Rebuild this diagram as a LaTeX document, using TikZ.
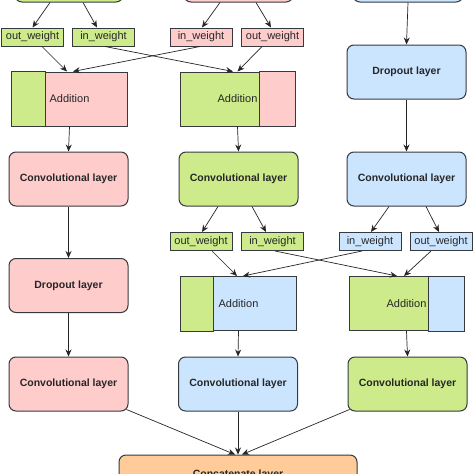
\documentclass[tikz,border=0pt]{standalone}
\usepackage{fontspec}
\setmainfont{Liberation Sans}
\usetikzlibrary{arrows.meta}
\definecolor{pinkfill}{HTML}{FFCCCC}
\definecolor{greenfill}{HTML}{CDEB8B}
\definecolor{bluefill}{HTML}{CCE5FF}
\definecolor{orangefill}{HTML}{FFCC99}
\definecolor{edgegray}{HTML}{36393D}

\begin{document}
\begin{tikzpicture}[x=1pt,y=-1pt,
  layer/.style={draw=edgegray, line width=1pt, rounded corners=7pt, minimum width=119pt, minimum height=54pt, inner sep=0pt, font=\fontsize{10.5}{12}\selectfont\bfseries, text=black!85},
  wbox/.style={draw=edgegray, line width=1pt, minimum width=62pt, minimum height=18pt, inner sep=0pt, font=\fontsize{11}{12}\selectfont, text=black!85},
  addbox/.style={draw=edgegray, line width=1pt, minimum width=115pt, minimum height=54pt, inner sep=0pt, font=\fontsize{11}{12}\selectfont, text=black!85},
  part/.style={draw=edgegray, line width=1pt},
  arr/.style={-{Stealth[length=7pt,width=6pt]}, draw=black!85, line width=0.7pt}]
\useasboundingbox (0,0) rectangle (474,474);
\fill[white] (0,0) rectangle (474,474);
\clip (0,0) rectangle (474,474);

% layers cut off at the top
\node[layer, fill=greenfill, minimum width=108pt] (topG) at (69,-25) {};
\node[layer, fill=pinkfill, minimum width=109pt] (topP) at (238.5,-25) {};
\node[layer, fill=bluefill, minimum width=110pt] (topB) at (408,-25) {};

% first exchange
\node[wbox, fill=greenfill] (owA) at (32.5,37) {out\_weight};
\node[wbox, fill=greenfill] (iwA) at (103.5,37) {in\_weight};
\node[wbox, fill=pinkfill] (iwB) at (201,37) {in\_weight};
\node[wbox, fill=pinkfill] (owB) at (272.5,37) {out\_weight};

\node[addbox, fill=pinkfill] (addA) at (69.5,99) {Addition};
\filldraw[part, fill=greenfill] (addA.north west) rectangle ([xshift=34pt]addA.south west);
\node[addbox, fill=greenfill] (addB) at (237.5,99) {Addition};
\filldraw[part, fill=pinkfill] ([xshift=-36pt]addB.north east) rectangle (addB.south east);

\node[layer, fill=bluefill] (dropR) at (406.5,72) {Dropout layer};

\node[layer, fill=pinkfill] (convL) at (68.5,179) {Convolutional layer};
\node[layer, fill=greenfill] (convM) at (238.5,179) {Convolutional layer};
\node[layer, fill=bluefill] (convR) at (406.5,179) {Convolutional layer};

% second exchange
\node[wbox, fill=greenfill] (owC) at (201,241.5) {out\_weight};
\node[wbox, fill=greenfill] (iwC) at (272.5,241.5) {in\_weight};
\node[wbox, fill=bluefill] (iwD) at (370,241.5) {in\_weight};
\node[wbox, fill=bluefill] (owD) at (441,241.5) {out\_weight};

\node[layer, fill=pinkfill] (dropL) at (68.5,285.5) {Dropout layer};

\node[addbox, fill=bluefill] (addC) at (238.5,303.5) {Addition};
\filldraw[part, fill=greenfill] (addC.north west) rectangle ([xshift=33pt]addC.south west);
\node[addbox, fill=greenfill] (addD) at (406.5,303.5) {Addition};
\filldraw[part, fill=bluefill] ([xshift=-36pt]addD.north east) rectangle (addD.south east);

\node[layer, fill=pinkfill] (convL2) at (68.5,384) {Convolutional layer};
\node[layer, fill=bluefill] (convM2) at (238,384) {Convolutional layer};
\node[layer, fill=greenfill] (convR2) at (407.5,384) {Convolutional layer};

\node[layer, fill=orangefill, minimum width=238pt, minimum height=40pt] (concat) at (238,475) {Concatenate layer};

% connectors
\draw[arr] ([xshift=-19pt]topG.south) -- (owA.north);
\draw[arr] ([xshift=14pt]topG.south) -- ([xshift=-6.5pt]iwA.north);
\draw[arr] ([xshift=-18.5pt]topP.south) -- ([xshift=1pt]iwB.north);
\draw[arr] ([xshift=17.5pt]topP.south) -- ([xshift=-1.5pt]owB.north);
\draw[arr] (topB.south) -- (dropR.north);

\draw[arr] ([xshift=9.5pt]owA.south) -- ([xshift=-2.5pt]addA.north);
\draw[arr] ([xshift=-1pt]iwB.south) -- ([xshift=3.5pt]addA.north);
\draw[arr] ([xshift=1.5pt]iwA.south) -- ([xshift=-4.5pt]addB.north);
\draw[arr] ([xshift=-10.5pt]owB.south) -- (addB.north);

\draw[arr] (addA.south) -- (convL.north);
\draw[arr] (addB.south) -- (convM.north);
\draw[arr] (dropR) -- (convR);
\draw[arr] (convL) -- (dropL);
\draw[arr] (dropL) -- (convL2);

\draw[arr] ([xshift=-20.5pt]convM.south) -- ([xshift=1pt]owC.north);
\draw[arr] ([xshift=13.5pt]convM.south) -- ([xshift=-6.5pt]iwC.north);
\draw[arr] ([xshift=-17.5pt]convR.south) -- ([xshift=1pt]iwD.north);
\draw[arr] ([xshift=19.5pt]convR.south) -- ([xshift=-2pt]owD.north);

\draw[arr] ([xshift=11pt]owC.south) -- ([xshift=-1.5pt]addC.north);
\draw[arr] ([xshift=-8pt]iwD.south) -- ([xshift=4.5pt]addC.north);
\draw[arr] ([xshift=2.5pt]iwC.south) -- ([xshift=-9.5pt]addD.north);
\draw[arr] ([xshift=-10pt]owD.south) -- ([xshift=-2.5pt]addD.north);

\draw[arr] (addC.south) -- (convM2.north);
\draw[arr] (addD.south) -- (convR2.north);

\draw[arr] ([xshift=-2pt,yshift=2pt]convL2.south east) -- ([xshift=-3pt]concat.north);
\draw[arr] (convM2) -- (concat);
\draw[arr] ([xshift=2pt,yshift=2pt]convR2.south west) -- ([xshift=4pt]concat.north);
\end{tikzpicture}
\end{document}
